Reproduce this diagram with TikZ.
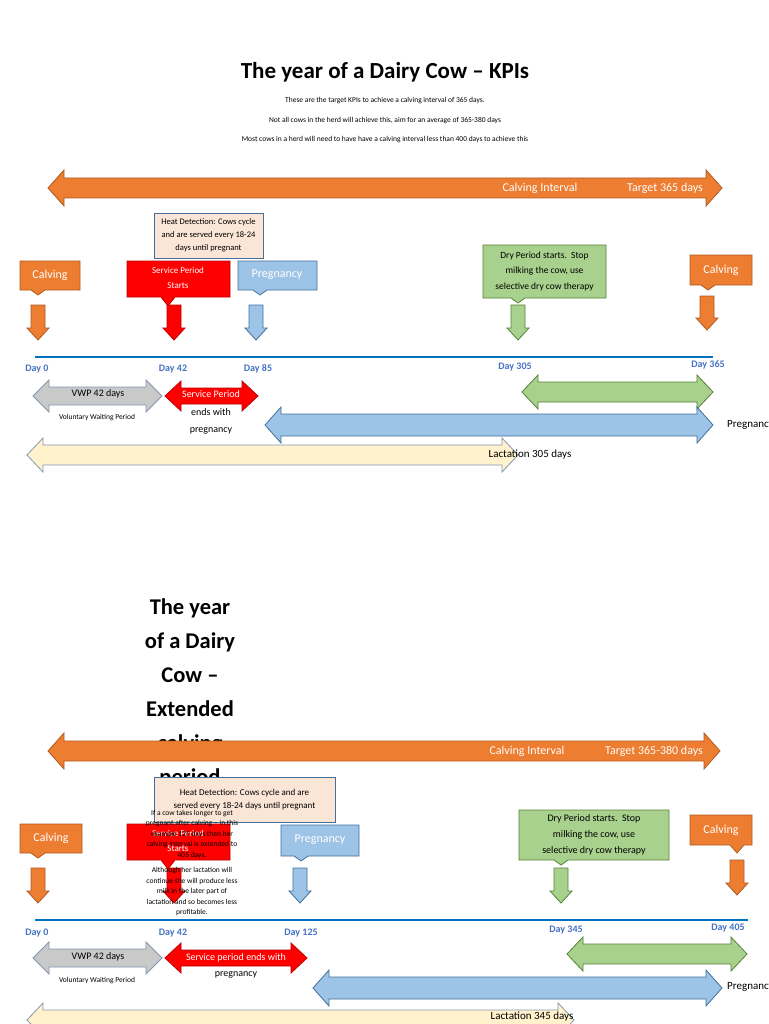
\documentclass[tikz,border=0pt]{standalone}
\usepackage{fontspec}
\setmainfont{Carlito}
\usetikzlibrary{positioning}
\definecolor{cOrange}{HTML}{ED7D31}
\definecolor{cOrangeD}{HTML}{AE5A21}
\definecolor{cRed}{HTML}{FF0000}
\definecolor{cRedD}{HTML}{C00000}
\definecolor{cBlue}{HTML}{9DC3E6}
\definecolor{cBlueD}{HTML}{41719C}
\definecolor{cGreen}{HTML}{A9D18E}
\definecolor{cGreenD}{HTML}{548235}
\definecolor{cGray}{HTML}{C9C9C9}
\definecolor{cGrayD}{HTML}{8497B0}
\definecolor{cYellow}{HTML}{FFF2CC}
\definecolor{cPeach}{HTML}{FBE5D6}
\definecolor{cDay}{HTML}{4472C4}
\definecolor{cLine}{HTML}{0070C0}
\tikzset{
    every node/.style={font=\fontsize{9}{11}\selectfont, inner sep=0pt},
    orange arr/.style={fill=cOrange, draw=cOrangeD, thick},
    red arr/.style={fill=cRed, draw=cRedD, thick},
    blue arr/.style={fill=cBlue, draw=cBlueD, thick},
    green arr/.style={fill=cGreen, draw=cGreenD, thick},
    gray arr/.style={fill=cGray, draw=cGrayD, thick},
    yellow arr/.style={fill=cYellow, draw=cGrayD, thick},
    day/.style={text=cDay, font=\fontsize{10}{12}\selectfont\bfseries},
    white txt/.style={text=white, font=\fontsize{12}{14}\selectfont},
    small txt/.style={font=\fontsize{7.5}{10}\selectfont, align=center},
    title/.style={font=\fontsize{22.5}{34}\selectfont\bfseries, align=center}
}
% double arrow: style, x1, x2, y, shaft half, head half
\newcommand\dblarr[6]{\draw[#1] (#2,#4) -- ({#2+16},{#4-#6}) -- ({#2+16},{#4-#5})
    -- ({#3-16},{#4-#5}) -- ({#3-16},{#4-#6}) -- (#3,#4) -- ({#3-16},{#4+#6})
    -- ({#3-16},{#4+#5}) -- ({#2+16},{#4+#5}) -- ({#2+16},{#4+#6}) -- cycle;}
% down arrow: style, x, y1, y2
\newcommand\downarr[4]{\draw[#1] ({#2-7},#3) -- ({#2+7},#3) -- ({#2+7},{#4-12})
    -- ({#2+11},{#4-12}) -- (#2,#4) -- ({#2-11},{#4-12}) -- ({#2-7},{#4-12}) -- cycle;}
% callout: style, x1, y1, x2, y2, tip x, tip y
\newcommand\callout[7]{\draw[#1] (#2,#3) -- (#4,#3) -- (#4,#5) -- ({#6+7},#5)
    -- (#6,#7) -- ({#6-7},#5) -- (#2,#5) -- cycle;}
\begin{document}
\begin{tikzpicture}[x=1pt, y=-1pt]
    \useasboundingbox[fill=white] (0,0) rectangle (768,1024);

    % ---------- KPI year ----------
    \node[font=\fontsize{23}{27}\selectfont\bfseries] (title1) at (385,72) {The year of a Dairy Cow – KPIs};
    \node[small txt] (sub1) at (385,101) {These are the target KPIs to achieve a calving interval of 365 days.};
    \node[small txt] (sub2) at (385,121) {Not all cows in the herd will achieve this, aim for an average of 365-380 days};
    \node[small txt] (sub3) at (385,140) {Most cows in a herd will need to have have a calving interval less than 400 days to achieve this};

    \dblarr{orange arr}{48}{722}{188}{10}{18}
    \node[white txt] (ci1) at (540,188) {Calving Interval};
    \node[white txt] (tg1) at (665,188) {Target 365 days};

    \draw[fill=cPeach, draw=cBlueD] (154,213) rectangle (263,258);
    \node[align=center, font=\fontsize{8.5}{13}\selectfont] (heat1) at (208.5,235.5) {Heat Detection: Cows cycle\\and are served every 18-24\\days until pregnant};

    \callout{orange arr}{20}{261}{80}{290}{38}{295}
    \node[white txt] (calv1) at (50,275) {Calving};
    \callout{red arr}{127}{261}{230}{297}{168}{306}
    \node[white txt, font=\fontsize{9}{15}\selectfont, align=center] (sps1) at (178,278) {Service Period\\Starts};
    \callout{blue arr}{238}{261}{317}{290}{260}{295}
    \node[white txt] (preg1) at (277,275) {Pregnancy};
    \callout{green arr}{483}{245}{606}{298}{518}{303}
    \node[align=center, font=\fontsize{9.5}{15.5}\selectfont] (dry1) at (544.5,271) {Dry Period starts.\ \ Stop\\milking the cow, use\\selective dry cow therapy};
    \callout{orange arr}{690}{255}{752}{285}{708}{290}
    \node[white txt] (calv1b) at (721,270) {Calving};

    \downarr{orange arr}{38}{305}{340}
    \downarr{red arr}{174}{305}{340}
    \downarr{blue arr}{256}{305}{340}
    \downarr{green arr}{518}{305}{340}
    \downarr{orange arr}{707}{296}{330}

    \coordinate (l1a) at (35,357);
    \coordinate (l1b) at (713,357);
    \draw[cLine, line width=1.5pt] (l1a) -- (l1b);
    \node[day] (d0) at (37,369) {Day 0};
    \node[day] (d42) at (173,369) {Day 42};
    \node[day] (d85) at (258,369) {Day 85};
    \node[day] (d305) at (515,367) {Day 305};
    \node[day] (d365) at (708,365) {Day 365};

    \dblarr{gray arr}{33}{162}{396}{9}{16}
    \node[font=\fontsize{10}{12}\selectfont] (vwp1) at (98,394) {VWP 42 days};
    \node[small txt] (vw1) at (97,418) {Voluntary Waiting Period};
    \dblarr{red arr}{165}{258}{396}{8}{15}
    \node[white txt, font=\fontsize{10}{12}\selectfont] (sp1) at (211,394) {Service Period};
    \node[align=center, font=\fontsize{10}{17}\selectfont] (ew1) at (211,421) {ends with\\pregnancy};
    \dblarr{green arr}{522}{713}{392}{10}{17}
    \dblarr{blue arr}{265}{713}{425}{11}{18}
    \node[anchor=west, font=\fontsize{11}{13}\selectfont] (pr1) at (727,425) {Pregnancy};
    \dblarr{yellow arr}{27}{518}{455}{10}{17}
    \node[font=\fontsize{11}{13}\selectfont] (lac1) at (530,455) {Lactation 305 days};

    % ---------- extended year ----------
    \node[title] (title2) at (190,693) {The year\\of a Dairy\\Cow –\\Extended\\calving\\period};

    \dblarr{orange arr}{48}{720}{751}{10}{18}
    \node[white txt] (ci2) at (527,751) {Calving Interval};
    \node[white txt, anchor=west] (tg2) at (605,751) {Target 365-380 days};

    \draw[fill=cPeach, draw=cBlueD] (154,777) rectangle (335,822);
    \node[align=center, font=\fontsize{9}{13}\selectfont] (heat2) at (244.5,799.5) {Heat Detection: Cows cycle and are\\served every 18-24 days until pregnant};

    \callout{orange arr}{20}{824}{82}{853}{38}{858}
    \node[white txt] (calv2) at (51,838) {Calving};
    \callout{red arr}{127}{824}{230}{860}{168}{869}
    \node[white txt, font=\fontsize{9}{15}\selectfont, align=center] (sps2) at (178,841) {Service Period\\Starts};
    \callout{blue arr}{281}{825}{359}{856}{301}{861}
    \node[white txt] (preg2) at (320,840) {Pregnancy};
    \callout{green arr}{519}{810}{669}{860}{561}{865}
    \node[align=center, font=\fontsize{10}{16}\selectfont] (dry2) at (594,835) {Dry Period starts.\ \ Stop\\milking the cow, use\\selective dry cow therapy};
    \callout{orange arr}{690}{815}{752}{845}{737}{853}
    \node[white txt] (calv2b) at (721,830) {Calving};

    \downarr{orange arr}{38}{868}{903}
    \downarr{red arr}{174}{868}{903}
    \downarr{blue arr}{300}{868}{903}
    \downarr{green arr}{561}{868}{903}
    \downarr{orange arr}{737}{860}{895}

    \node[small txt, font=\fontsize{7.5}{10.5}\selectfont] (note2) at (192,863) {If a cow takes longer to get\\pregnant after calving – in this\\example 125 days then her\\calving interval is extended to\\405 days.\\[5pt]Although her lactation will\\continue she will produce less\\milk in the later part of\\lactation and so becomes less\\profitable.};

    \coordinate (l2a) at (35,920);
    \coordinate (l2b) at (748,920);
    \draw[cLine, line width=1.5pt] (l2a) -- (l2b);
    \node[day] (e0) at (37,933) {Day 0};
    \node[day] (e42) at (173,933) {Day 42};
    \node[day] (e125) at (301,933) {Day 125};
    \node[day] (e345) at (566,930) {Day 345};
    \node[day] (e405) at (728,928) {Day 405};

    \dblarr{gray arr}{33}{162}{958}{9}{16}
    \node[font=\fontsize{10}{12}\selectfont] (vwp2) at (98,957) {VWP 42 days};
    \node[small txt] (vw2) at (97,981) {Voluntary Waiting Period};
    \dblarr{red arr}{165}{307}{958}{8}{15}
    \node[white txt, font=\fontsize{10}{12}\selectfont] (sp2) at (236,958) {Service period ends with};
    \node[font=\fontsize{10}{12}\selectfont] (ew2) at (236,975) {pregnancy};
    \dblarr{green arr}{567}{747}{954}{10}{17}
    \dblarr{blue arr}{313}{722}{988}{11}{18}
    \node[anchor=west, font=\fontsize{11}{13}\selectfont] (pr2) at (727,987) {Pregnancy};
    \dblarr{yellow arr}{27}{574}{1020}{10}{17}
    \node[font=\fontsize{11}{13}\selectfont] (lac2) at (532,1017) {Lactation 345 days};
\end{tikzpicture}
\end{document}
